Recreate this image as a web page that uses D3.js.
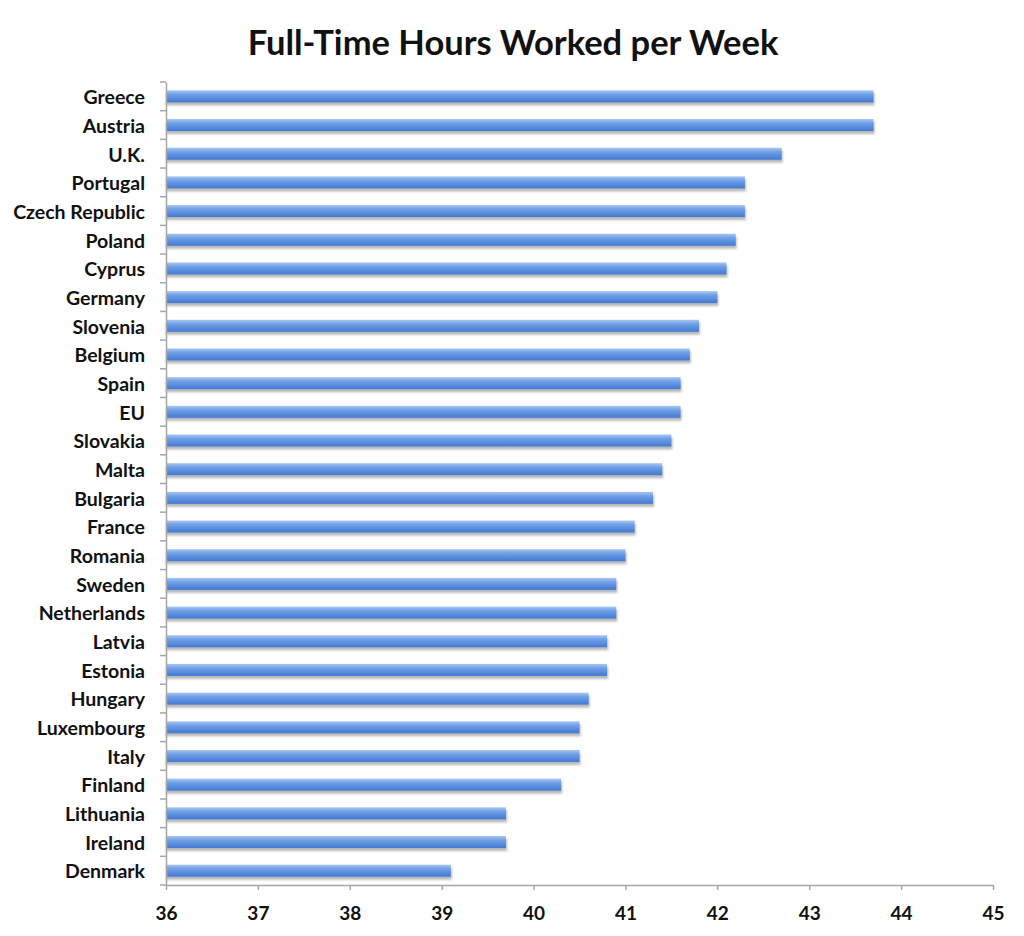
<!DOCTYPE html>
<html>
<head>
<meta charset="utf-8">
<script src="https://cdn.jsdelivr.net/npm/d3@7"></script>
<style>
  body { margin: 0; background: #fff; }
  text { font-family: Lato, "Open Sans", sans-serif; }
</style>
</head>
<body>
<div id="chart"></div>
<script>
// data
var countries = ["Greece", "Austria", "U.K.", "Portugal", "Czech Republic", "Poland", "Cyprus",
  "Germany", "Slovenia", "Belgium", "Spain", "EU", "Slovakia", "Malta", "Bulgaria", "France",
  "Romania", "Sweden", "Netherlands", "Latvia", "Estonia", "Hungary", "Luxembourg", "Italy",
  "Finland", "Lithuania", "Ireland", "Denmark"];
var hours = [43.7, 43.7, 42.7, 42.3, 42.3, 42.2, 42.1,
  42.0, 41.8, 41.7, 41.6, 41.6, 41.5, 41.4, 41.3, 41.1,
  41.0, 40.9, 40.9, 40.8, 40.8, 40.6, 40.5, 40.5,
  40.3, 39.7, 39.7, 39.1];
var xTicks = [36, 37, 38, 39, 40, 41, 42, 43, 44, 45];

var svgWidth = 1024;
var svgHeight = 936;

var svg = d3.select("#chart")
  .append("svg")
  .attr("width", svgWidth)
  .attr("height", svgHeight);

var defs = svg.append("defs");
var grad = defs.append("linearGradient")
  .attr("id", "barGrad")
  .attr("x1", 0).attr("y1", 0).attr("x2", 0).attr("y2", 1);
grad.append("stop").attr("offset", "0%").attr("stop-color", "#a9c7f4");
grad.append("stop").attr("offset", "35%").attr("stop-color", "#6f9fe6");
grad.append("stop").attr("offset", "100%").attr("stop-color", "#4279d3");

defs.append("filter").attr("id", "shadow")
  .attr("x", "-5%").attr("y", "-50%").attr("width", "110%").attr("height", "200%")
  .append("feGaussianBlur").attr("stdDeviation", 1.2);

var xScale = d3.scaleLinear()
  .domain([36, 45])
  .range([166, 993]);

var yScale = d3.scaleBand()
  .domain(countries)
  .range([82, 885])
  .padding(0);

var barH = 12;
var data = countries.map(function(c, i) { return { name: c, value: hours[i] }; });

// shadows
svg.append("g").selectAll("rect").data(data)
  .enter()
  .append("rect")
  .attr("x", xScale(36))
  .attr("y", d => yScale(d.name) + yScale.bandwidth() / 2 - barH / 2 + 3)
  .attr("width", d => xScale(d.value) - xScale(36) + 1)
  .attr("height", barH)
  .attr("fill", "#b8b8b8")
  .attr("filter", "url(#shadow)");

// bars
svg.append("g").selectAll("rect").data(data)
  .enter()
  .append("rect")
  .attr("x", xScale(36))
  .attr("y", d => yScale(d.name) + yScale.bandwidth() / 2 - barH / 2)
  .attr("width", d => xScale(d.value) - xScale(36))
  .attr("height", barH)
  .attr("fill", "url(#barGrad)");

// x axis
var bottomAxis = d3.axisBottom(xScale)
  .tickValues(xTicks)
  .tickSize(5)
  .tickPadding(17)
  .tickSizeOuter(0);

var xAxis = svg.append("g")
  .attr("transform", `translate(0, 885)`)
  .call(bottomAxis);
xAxis.selectAll("line, path").attr("stroke", "#a6a6a6").attr("stroke-width", 1.5);
xAxis.selectAll("text")
  .attr("font-size", "19px")
  .attr("font-weight", "bold")
  .attr("fill", "#111");

// y axis, labels at band centres
var leftAxis = d3.axisLeft(yScale)
  .tickSize(0)
  .tickPadding(21)
  .tickSizeOuter(0);

var yAxis = svg.append("g")
  .attr("transform", `translate(166, 0)`)
  .call(leftAxis);
yAxis.select("path").attr("stroke", "#a6a6a6").attr("stroke-width", 1.5);
yAxis.selectAll("text")
  .attr("font-size", "19.5px")
  .attr("font-weight", "bold")
  .attr("dy", "0.4em")
  .attr("fill", "#111");

// y tick marks between categories
var bounds = countries.map(c => yScale(c)).concat([yScale.range()[1]]);
svg.append("g").selectAll("line").data(bounds)
  .enter()
  .append("line")
  .attr("x1", 160)
  .attr("x2", 166)
  .attr("y1", d => d)
  .attr("y2", d => d)
  .attr("stroke", "#a6a6a6")
  .attr("stroke-width", 1.5);

svg.append("text")
  .attr("x", 513)
  .attr("y", 55)
  .attr("text-anchor", "middle")
  .attr("font-size", "34.5px")
  .attr("font-weight", "bold")
  .attr("fill", "#111")
  .text("Full-Time Hours Worked per Week");
</script>
</body>
</html>
